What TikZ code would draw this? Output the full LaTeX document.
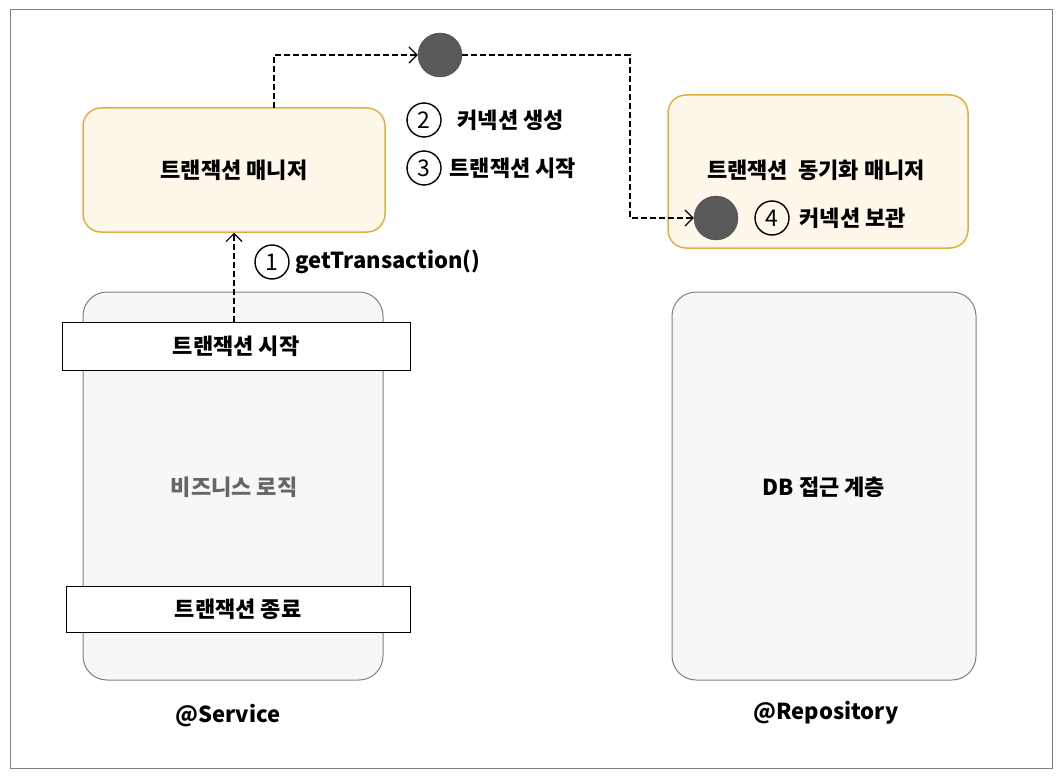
\documentclass[tikz,border=0pt]{standalone}
\usepackage{fontspec}
\setmainfont{Noto Sans CJK KR}
\usetikzlibrary{arrows.meta}
\definecolor{tmfill}{HTML}{FDF8EA}
\definecolor{tmline}{HTML}{E0B040}
\definecolor{conn}{HTML}{595959}
\tikzset{mgr/.style={draw=tmline, line width=1.5pt, fill=tmfill, rounded corners=18pt}}
\tikzset{layer/.style={draw=gray, line width=1pt, fill=gray!6, rounded corners=24pt}}
\tikzset{bar/.style={draw, line width=1pt, fill=white}}
\tikzset{dot/.style={circle, fill=conn, draw=black!70, minimum size=44pt, inner sep=0pt}}
\tikzset{num/.style={circle, draw, line width=1.4pt, minimum size=34pt, inner sep=0pt, font=\fontsize{23}{23}\selectfont}}
\tikzset{lbl/.style={font=\fontsize{22}{26}\selectfont\bfseries}}
\tikzset{flow/.style={dash pattern=on 6pt off 3pt, line width=1.2pt, -{Straight Barb[length=8pt]}}}
\begin{document}
\begin{tikzpicture}[x=1pt,y=-1pt]
	\useasboundingbox (0,0) rectangle (1064,778);
	\draw[gray, line width=1pt] (10,10) rectangle (1052,768);
	% layers
	\draw[layer] (83,292) rectangle (383,680);
	\draw[layer] (672,292) rectangle (976,680);
	\node[lbl, text=gray!80!black] (logic) at (234,487) {비즈니스 로직};
	\node[lbl] (db) at (824,487) {DB 접근 계층};
	\node[bar, minimum width=348pt, minimum height=48pt, lbl] (begin) at (236,346) {트랜잭션 시작};
	\node[bar, minimum width=344pt, minimum height=46pt, lbl] (end) at (238,609) {트랜잭션 종료};
	\node[lbl] (svc) at (228,716) {@Service};
	\node[lbl] (repo) at (826,713) {@Repository};
	% managers
	\node[mgr, minimum width=302pt, minimum height=124pt, lbl] (tm) at (234,170) {트랜잭션 매니저};
	\node[mgr, minimum width=300pt, minimum height=153pt] (sync) at (818,171.5) {};
	\node[lbl] (synctxt) at (816,170) {트랜잭션\ \ 동기화 매니저};
	% connections
	\node[dot] (c1) at (440,55) {};
	\node[dot] (c2) at (716,218) {};
	\coordinate (tmtop) at (274,108);
	\coordinate (bend) at (630,55);
	\draw[flow] (tmtop) |- (c1);
	\draw[flow] (c1) -- (bend) |- (c2);
	\draw[flow] (begin.north -| tm.south) -- (tm.south);
	% labels
	\node[num] (n1) at (272,262) {1};
	\node[lbl, anchor=west] (t1) at (292,262) {getTransaction()};
	\node[num] (n2) at (424,120) {2};
	\node[lbl, anchor=west] (t2) at (454,120) {커넥션 생성};
	\node[num] (n3) at (424,168) {3};
	\node[lbl, anchor=west] (t3) at (446,168) {트랜잭션 시작};
	\node[num] (n4) at (772,218) {4};
	\node[lbl, anchor=west] (t4) at (796,218) {커넥션 보관};
\end{tikzpicture}
\end{document}
